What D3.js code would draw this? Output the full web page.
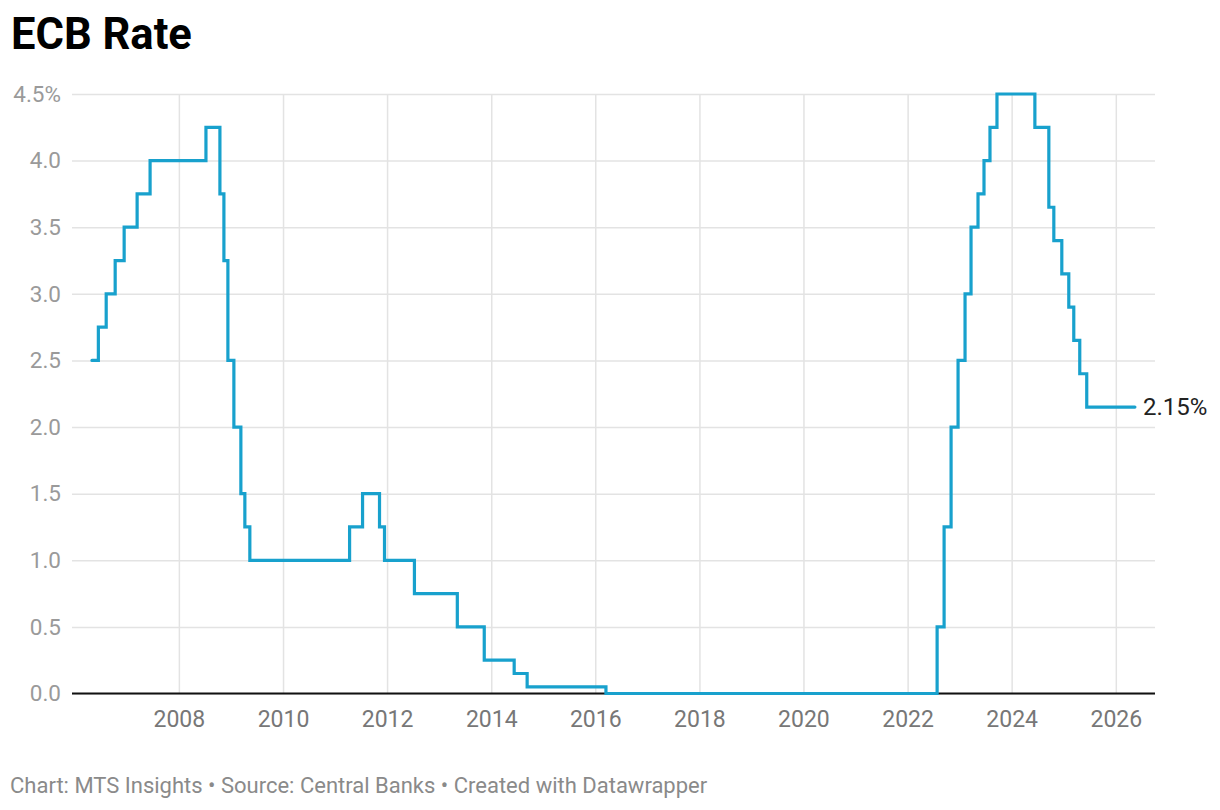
<!DOCTYPE html>
<html>
<head>
<meta charset="utf-8">
<script src="https://cdn.jsdelivr.net/npm/d3@7"></script>
<style>
  html, body { margin: 0; padding: 0; background: #fff; }
  svg { display: block; font-family: Roboto, "Noto Sans", sans-serif; }
</style>
</head>
<body>
<svg id="chart" width="1220" height="810"></svg>
<script>
// ---- data ----
const title = "ECB Rate";
const footer = "Chart: MTS Insights \u2022 Source: Central Banks \u2022 Created with Datawrapper";
const dates = [
  "2006-05-01","2006-06-15","2006-08-09","2006-10-11","2006-12-13","2007-03-14","2007-06-13",
  "2008-07-09","2008-10-15","2008-11-12","2008-12-10","2009-01-21","2009-03-11","2009-04-08","2009-05-13",
  "2011-04-13","2011-07-13","2011-11-09","2011-12-14","2012-07-11","2013-05-08","2013-11-13",
  "2014-06-11","2014-09-10","2016-03-16",
  "2022-07-27","2022-09-14","2022-11-02","2022-12-21","2023-02-08","2023-03-22","2023-05-10",
  "2023-06-21","2023-08-02","2023-09-20","2024-06-12","2024-09-18","2024-10-23","2024-12-18",
  "2025-02-05","2025-03-12","2025-04-23","2025-06-11","2026-05-15"
];
const rates = [
  2.50, 2.75, 3.00, 3.25, 3.50, 3.75, 4.00,
  4.25, 3.75, 3.25, 2.50, 2.00, 1.50, 1.25, 1.00,
  1.25, 1.50, 1.25, 1.00, 0.75, 0.50, 0.25,
  0.15, 0.05, 0.00,
  0.50, 1.25, 2.00, 2.50, 3.00, 3.50, 3.75,
  4.00, 4.25, 4.50, 4.25, 3.65, 3.40, 3.15,
  2.90, 2.65, 2.40, 2.15, 2.15
];
const yTicks = [0, 0.5, 1, 1.5, 2, 2.5, 3, 3.5, 4, 4.5];
const xTickYears = [2008, 2010, 2012, 2014, 2016, 2018, 2020, 2022, 2024, 2026];
const xDomain = ["2005-12-12", "2026-10-03"];
const lastLabel = "2.15%";

(function () {
// ---- layout ----
const parse = d3.utcParse("%Y-%m-%d");
const data = dates.map((d, i) => ({ date: parse(d), value: rates[i] }));
const mLeft = 72, mRight = 1155, mTop = 94, mBottom = 693.5;

const svg = d3.select("#chart");
const x = d3.scaleUtc().domain(xDomain.map(parse)).range([mLeft, mRight]);
const y = d3.scaleLinear().domain([0, 4.5]).range([mBottom, mTop]);

// title
svg.append("text").attr("x", 11).attr("y", 49)
  .attr("font-size", 43.5).attr("font-weight", 700).attr("fill", "#000")
  .text(title);

// horizontal grid + y labels
const yAxis = d3.axisLeft(y).tickValues(yTicks)
  .tickSize(-(mRight - mLeft))
  .tickFormat((d, i) => d3.format(".1f")(d) + (i === yTicks.length - 1 ? "%" : ""))
  .tickPadding(11);
const gy = svg.append("g").attr("transform", `translate(${mLeft},0)`).call(yAxis);
gy.select(".domain").remove();
gy.selectAll(".tick line").attr("stroke", "#e3e3e3").attr("stroke-width", 1.5);
gy.selectAll(".tick text").attr("font-size", 22.5).attr("fill", "#9a9a9a")
  .attr("font-family", "Roboto, sans-serif");

// vertical grid + x labels
const xTicks = xTickYears.map(yr => new Date(Date.UTC(yr, 0, 1)));
const xAxis = d3.axisBottom(x).tickValues(xTicks)
  .tickSize(-(mBottom - mTop))
  .tickFormat(d3.utcFormat("%Y"))
  .tickPadding(17);
const gx = svg.append("g").attr("transform", `translate(0,${mBottom})`).call(xAxis);
gx.select(".domain").remove();
gx.selectAll(".tick line").attr("stroke", "#e3e3e3").attr("stroke-width", 1.5);
gx.selectAll(".tick text").attr("font-size", 23).attr("fill", "#777")
  .attr("font-family", "Roboto, sans-serif");

// baseline
svg.append("line").attr("x1", mLeft).attr("x2", mRight)
  .attr("y1", y(0)).attr("y2", y(0))
  .attr("stroke", "#111").attr("stroke-width", 2);

// step line
const line = d3.line().x(d => x(d.date)).y(d => y(d.value)).curve(d3.curveStepAfter);
svg.append("path").datum(data)
  .attr("d", line).attr("fill", "none")
  .attr("stroke", "#18a1cd").attr("stroke-width", 3.2)
  .attr("stroke-linejoin", "miter").attr("stroke-linecap", "round");

// end label
const last = data[data.length - 1];
svg.append("text").attr("x", x(last.date) + 8).attr("y", y(last.value))
  .attr("dy", "0.35em").attr("font-size", 24).attr("fill", "#222")
  .text(lastLabel);

// footer
svg.append("text").attr("x", 10).attr("y", 793)
  .attr("font-size", 22).attr("fill", "#8a8a8a")
  .text(footer);
})();
</script>
</body>
</html>
